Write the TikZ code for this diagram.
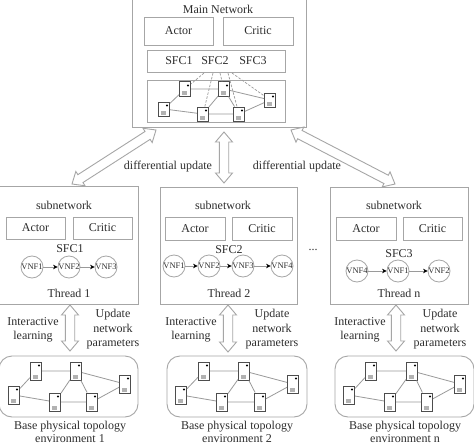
\documentclass[tikz,border=0pt]{standalone}
\usepackage{fontspec}
\setmainfont{Liberation Serif}
\usetikzlibrary{calc,arrows.meta}
\definecolor{boxgray}{HTML}{A6A6A6}
\definecolor{linkgray}{HTML}{9A9A9A}
\definecolor{ink}{HTML}{2E2E2E}
\tikzset{
  x=1pt,y=-1pt,
  every node/.style={text=ink,font=\fontsize{12}{14.6}\selectfont,inner sep=0pt,align=center},
  bigbox/.style={draw=boxgray,line width=1pt,fill=white},
  blk/.style={draw=boxgray,line width=0.9pt,fill=white},
  envbox/.style={draw=boxgray,line width=0.9pt,rounded corners=13pt},
  link/.style={draw=linkgray,line width=0.8pt},
  dashlink/.style={draw=linkgray,line width=0.7pt,dashed,dash pattern=on 2.5pt off 1.5pt},
  vnf/.style={circle,draw=boxgray,line width=0.8pt,minimum size=22pt,font=\fontsize{8.5}{10}\selectfont},
  chain/.style={draw=linkgray,line width=0.8pt,-{Stealth[black,length=4.5pt,width=4.5pt]}},
  blockarr/.style={draw=boxgray,line width=0.9pt,fill=white,line join=miter},
  srv/.style={draw=ink!85,line width=1pt,fill=white,minimum width=11pt,minimum height=#1,
    path picture={
      \fill[black] ($(path picture bounding box.north east)+(-2.5,3.5)$) circle (1.1pt);
      \fill[gray!60] ($(path picture bounding box.south)+(-3,-5.5)$) rectangle ($(path picture bounding box.south)+(2,-1.5)$);
    }},
  basetext/.style={font=\fontsize{12}{13.4}\selectfont},
}
% rectangle node from corners
\newcommand{\rectnode}[7][]{\node[blk,#1,minimum width=#5pt-#3pt,minimum height=#6pt-#4pt] (#2) at ({(#3+#5)/2},{(#4+#6)/2}) {#7};}
% block double arrow between two named coordinates
\newcommand{\blockarrow}[2]{%
  \coordinate (p1) at ($(#1)!10pt!(#2)$);
  \coordinate (p2) at ($(#2)!10pt!(#1)$);
  \draw[blockarr] (#1)
    -- ($(p1)!8.5pt!90:(#2)$) -- ($(p1)!4.7pt!90:(#2)$)
    -- ($(p2)!4.7pt!90:(#2)$) -- ($(p2)!8.5pt!90:(#2)$)
    -- (#2)
    -- ($(p2)!8.5pt!-90:(#2)$) -- ($(p2)!4.7pt!-90:(#2)$)
    -- ($(p1)!4.7pt!-90:(#2)$) -- ($(p1)!8.5pt!-90:(#2)$) -- cycle;
}
% six-server topology: prefix, height, six centres
\newcommand{\servers}[8]{%
  \node[srv=#2] (#1a) at #3 {};
  \node[srv=#2] (#1b) at #4 {};
  \node[srv=#2] (#1c) at #5 {};
  \node[srv=#2] (#1d) at #6 {};
  \node[srv=#2] (#1e) at #7 {};
  \node[srv=#2] (#1f) at #8 {};
  \draw[link] (#1a)--(#1b) (#1a)--(#1c) (#1c)--(#1d) (#1b)--(#1d) (#1b)--(#1e) (#1d)--(#1e) (#1b)--(#1f) (#1e)--(#1f);
}
\begin{document}
\begin{tikzpicture}
\clip (0,0) rectangle (474,444);
\fill[white] (0,0) rectangle (474,444);

% main network
\rectnode[bigbox]{main}{132}{-2}{306}{127}{}
\node (maint) at (218,9) {Main Network};
\rectnode{mactor}{144}{17}{213}{45}{Actor}
\rectnode{mcritic}{223}{17}{293}{45}{Critic}
\rectnode{msfc}{147}{50}{285}{72}{}
\node (ms1) at (179,61) {SFC1};
\node (ms2) at (215,61) {SFC2};
\node (ms3) at (253,61) {SFC3};
\rectnode{mtopo}{147}{80}{285}{122}{}
\servers{m}{14pt}{(185,89)}{(224,89)}{(164,109)}{(203,114)}{(239,114)}{(270,100)}
\coordinate (d1) at (204,73);
\coordinate (d2) at (213,73);
\coordinate (d3) at (220,73);
\coordinate (d4) at (228,73);
\coordinate (d5) at (232,73);
\draw[dashlink] (d1)--(ma) (d2)--(md) (d3)--(mb) (d4)--(me) (d5)--(mf);

% subnetwork 1
\rectnode[bigbox]{s1}{-2}{186}{138}{304}{}
\node (s1t) at (64,205) {subnetwork};
\rectnode{s1a}{6}{217}{65}{239}{Actor}
\rectnode{s1c}{73}{217}{132}{239}{Critic}
\node (s1f) at (70,249) {SFC1};
\node[vnf] (s1v1) at (32,267) {VNF1};
\node[vnf] (s1v2) at (69,267) {VNF2};
\node[vnf] (s1v3) at (106,267) {VNF3};
\draw[chain] (s1v1)--(s1v2);
\draw[chain] (s1v2)--(s1v3);
\node (s1h) at (69,293) {Thread 1};

% subnetwork 2
\rectnode[bigbox]{s2}{160}{187}{297}{304}{}
\node (s2t) at (223,205) {subnetwork};
\rectnode{s2a}{165}{217}{225}{240}{Actor}
\rectnode{s2c}{232}{217}{292}{240}{Critic}
\node (s2f) at (229,250) {SFC2};
\node[vnf] (s2v1) at (174,266) {VNF1};
\node[vnf] (s2v2) at (209,266) {VNF2};
\node[vnf] (s2v3) at (243,266) {VNF3};
\node[vnf] (s2v4) at (282,266) {VNF4};
\draw[chain] (s2v1)--(s2v2);
\draw[chain] (s2v2)--(s2v3);
\draw[chain] (s2v3)--(s2v4);
\node (s2h) at (229,293) {Thread 2};

% subnetwork 3
\rectnode[bigbox]{s3}{330}{187}{468}{304}{}
\node (s3t) at (394,205) {subnetwork};
\rectnode{s3a}{336}{217}{396}{240}{Actor}
\rectnode{s3c}{403}{217}{462}{240}{Critic}
\node (s3f) at (399,254) {SFC3};
\node[vnf] (s3v1) at (357,271) {VNF4};
\node[vnf] (s3v2) at (398,271) {VNF1};
\node[vnf] (s3v3) at (439,271) {VNF2};
\draw[chain] (s3v1)--(s3v2);
\draw[chain] (s3v2)--(s3v3);
\node (s3h) at (399,293) {Thread n};

\node (dots) at (313,250) {...};

% differential update arrows
\coordinate (u1a) at (156,130); \coordinate (u1b) at (72,184);
\coordinate (u2a) at (224,132); \coordinate (u2b) at (224,183);
\coordinate (u3a) at (291,130); \coordinate (u3b) at (395,184);
\blockarrow{u1a}{u1b}
\blockarrow{u2a}{u2b}
\blockarrow{u3a}{u3b}
\node (du1) at (168,167) {differential update};
\node (du2) at (297,167) {differential update};

% learning arrows
\coordinate (l1a) at (70,305); \coordinate (l1b) at (70,351);
\coordinate (l2a) at (228,305); \coordinate (l2b) at (228,352);
\coordinate (l3a) at (396,305); \coordinate (l3b) at (396,351);
\blockarrow{l1a}{l1b}
\blockarrow{l2a}{l2b}
\blockarrow{l3a}{l3b}
\node (il1) at (33,330) {Interactive\\learning};
\node (il2) at (191,330) {Interactive\\learning};
\node (il3) at (360,330) {Interactive\\learning};
\node (up1) at (113,329.5) {Update\\network\\parameters};
\node (up2) at (272,329.5) {Update\\network\\parameters};
\node (up3) at (440,329.5) {Update\\network\\parameters};

% environments
\draw[envbox] (-1,356) rectangle (138,417);
\draw[envbox] (167,356) rectangle (307,417);
\draw[envbox] (335,356) rectangle (474,417);
\servers{e}{18pt}{(36,371)}{(76,371)}{(14,395)}{(55,402)}{(92,402)}{(125,384)}
\servers{f}{18pt}{(204,371)}{(244,371)}{(181,395)}{(222,402)}{(260,402)}{(293,384)}
\servers{g}{18pt}{(371,371)}{(412,371)}{(349,395)}{(390,402)}{(427,402)}{(460,384)}
\node[basetext,anchor=south] (b1) at (70,443) {Base physical topology\\environment 1};
\node[basetext,anchor=south] (b2) at (237,443) {Base physical topology\\environment 2};
\node[basetext,anchor=south] (b3) at (405,443) {Base physical topology\\environment n};
\end{tikzpicture}
\end{document}
